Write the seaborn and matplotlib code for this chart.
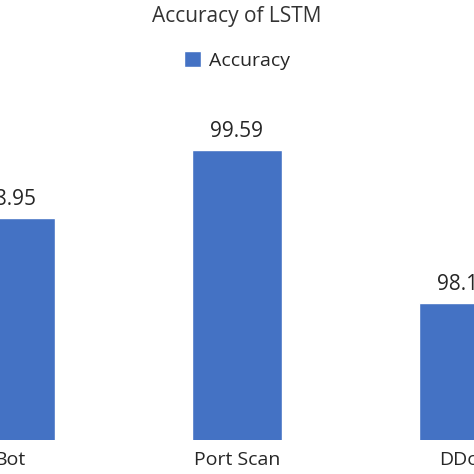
import matplotlib
matplotlib.use("Agg")
import matplotlib.pyplot as plt
import seaborn as sns
import pandas as pd

sns.set_theme(style="white")
plt.rcParams['font.family'] = ['Open Sans', 'DejaVu Sans']

attacks = ["Bot", "Port Scan", "DDoS"]
accuracy = [98.95, 99.59, 98.15]

df = pd.DataFrame({"attack": attacks, "Accuracy": accuracy})

fig = plt.figure(figsize=(4.74, 4.74), dpi=100)
ax = fig.add_axes([0, 0.072, 1, 0.717])
sns.barplot(data=df, x="attack", y="Accuracy", color="#4472C4", width=0.4,
            saturation=1, ax=ax, label="Accuracy")
ax.set_xlim(-0.044, 2.044)
ax.set_ylim(96.86, 100.06)
for c in ax.containers:
    ax.bar_label(c, fmt="%.2f", padding=6, fontsize=15, color="#262626")
ax.set_xlabel("")
ax.set_ylabel("")
ax.set_yticks([])
ax.tick_params(axis="x", labelsize=14, colors="#262626", pad=2)
for s in ax.spines.values():
    s.set_visible(False)
fig.text(0.5, 0.965, "Accuracy of LSTM", ha="center", va="center", fontsize=15, color="#333333")
ax.legend(loc="center", bbox_to_anchor=(0.5, 0.873), bbox_transform=fig.transFigure,
          frameon=False, fontsize=14, handlelength=0.9, handleheight=0.9,
          handletextpad=0.4, labelcolor="#262626")
fig.savefig("out.png", dpi=100)
